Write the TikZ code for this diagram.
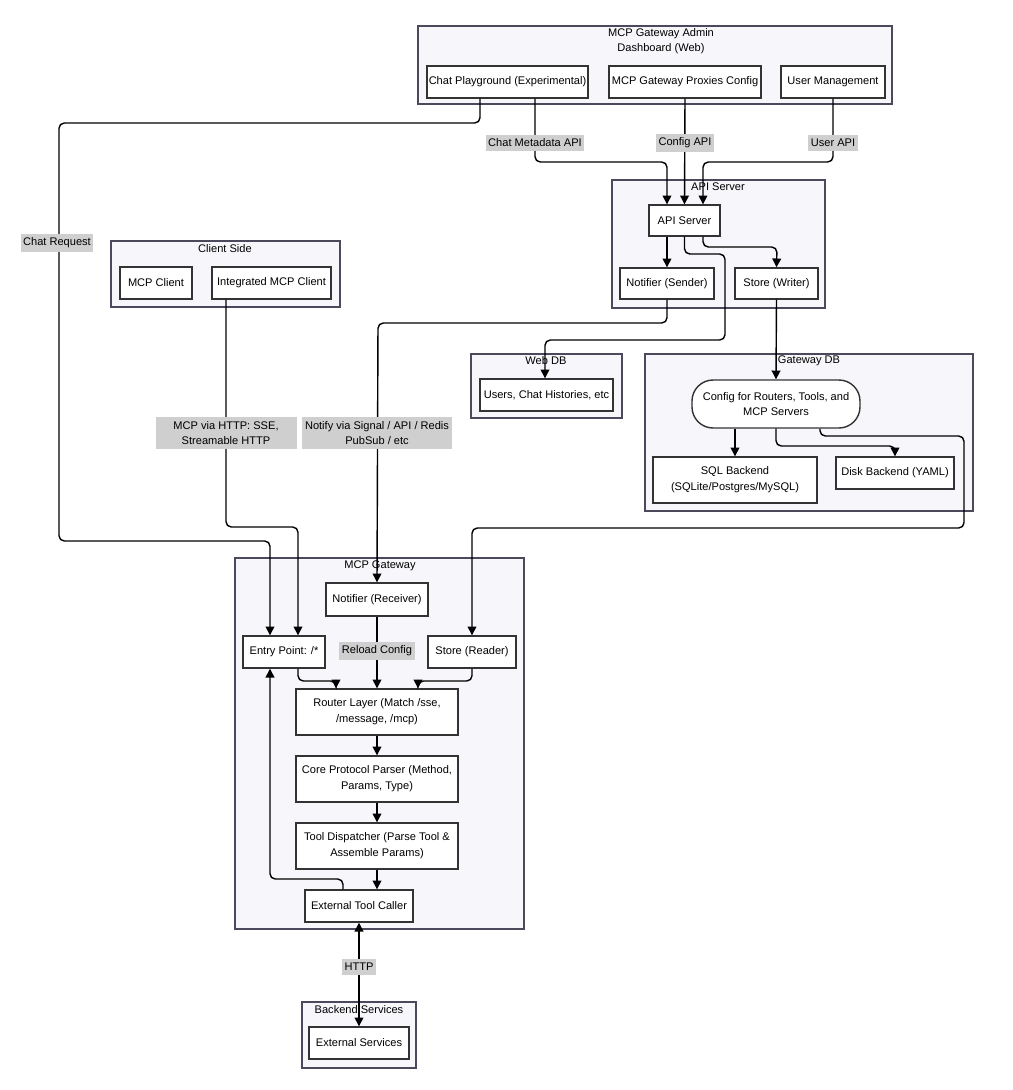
\documentclass[tikz,border=0pt]{standalone}
\usepackage{fontspec}
\setmainfont{Liberation Sans}
\usetikzlibrary{calc,arrows.meta}
\definecolor{clfill}{HTML}{F7F7FB}
\definecolor{clline}{HTML}{4A4A5C}
\definecolor{lblgray}{HTML}{CFCFCF}
\tikzset{
  box/.style={rectangle, draw=black!80, line width=0.8pt, fill=white, align=center, inner sep=0,
    font=\fontsize{6.3}{9}\selectfont},
  cluster/.style={draw=clline, line width=0.8pt, fill=clfill},
  title/.style={font=\fontsize{6.3}{8.2}\selectfont, align=center, inner sep=0},
  lbl/.style={fill=lblgray, inner xsep=1.5pt, inner ysep=2.3pt, align=center, font=\fontsize{6.3}{9}\selectfont},
  arr/.style={-{Triangle[length=5pt,width=5pt]}, line width=0.8pt, rounded corners=3pt},
  link/.style={line width=0.8pt, rounded corners=3pt}
}
\begin{document}
\begin{tikzpicture}[x=0.02cm, y=-0.02cm]
  \useasboundingbox (0,0) rectangle (1013,1090);

  % clusters
  \draw[cluster] (418,26) rectangle (892,104);
  \node[title] (admintitle) at (661,41) {MCP Gateway Admin\\Dashboard (Web)};
  \draw[cluster] (612,180) rectangle (825,308);
  \node[title] (apititle) at (718,187) {API Server};
  \draw[cluster] (111,241) rectangle (340,307);
  \node[title] (clienttitle) at (225,249) {Client Side};
  \draw[cluster] (471,354) rectangle (622,418);
  \node[title] (webdbtitle) at (546,361) {Web DB};
  \draw[cluster] (645,354) rectangle (973,511);
  \node[title] (gwdbtitle) at (809,361) {Gateway DB};
  \draw[cluster] (235,558) rectangle (524,929);
  \node[title] (gwtitle) at (380,566) {MCP Gateway};
  \draw[cluster] (302,1002) rectangle (416,1068);
  \node[title] (betitle) at (359,1010) {Backend Services};

  % nodes
  \node[box, minimum width=161*0.02cm, minimum height=32*0.02cm] (chat) at (507.5,82) {Chat Playground (Experimental)};
  \node[box, minimum width=152*0.02cm, minimum height=32*0.02cm] (proxies) at (685,82) {MCP Gateway Proxies Config};
  \node[box, minimum width=104*0.02cm, minimum height=32*0.02cm] (users) at (833,82) {User Management};
  \node[box, minimum width=71*0.02cm, minimum height=31*0.02cm] (apisrv) at (684.5,220.5) {API Server};
  \node[box, minimum width=94*0.02cm, minimum height=31*0.02cm] (notsend) at (667,283.5) {Notifier (Sender)};
  \node[box, minimum width=83*0.02cm, minimum height=31*0.02cm] (storew) at (776.5,283.5) {Store (Writer)};
  \node[box, minimum width=72*0.02cm, minimum height=32*0.02cm] (mcpclient) at (156,283) {MCP Client};
  \node[box, minimum width=119*0.02cm, minimum height=32*0.02cm] (intclient) at (271.5,283) {Integrated MCP Client};
  \node[box, minimum width=133*0.02cm, minimum height=32*0.02cm] (webdb) at (546.5,395) {Users, Chat Histories, etc};
  \node[box, rounded corners=12pt, minimum width=168*0.02cm, minimum height=48*0.02cm] (cfg) at (776,404) {Config for Routers, Tools, and\\MCP Servers};
  \node[box, minimum width=164*0.02cm, minimum height=46*0.02cm] (sql) at (735,480) {SQL Backend\\(SQLite/Postgres/MySQL)};
  \node[box, minimum width=118*0.02cm, minimum height=32*0.02cm] (disk) at (895,473) {Disk Backend (YAML)};
  \node[box, minimum width=102*0.02cm, minimum height=33*0.02cm] (notrecv) at (377,599.5) {Notifier (Receiver)};
  \node[box, minimum width=82*0.02cm, minimum height=32*0.02cm] (entry) at (284,652) {Entry Point: /*};
  \node[box, minimum width=88*0.02cm, minimum height=32*0.02cm] (storer) at (472,652) {Store (Reader)};
  \node[box, minimum width=162*0.02cm, minimum height=46*0.02cm] (router) at (377,712) {Router Layer (Match /sse,\\/message, /mcp)};
  \node[box, minimum width=162*0.02cm, minimum height=46*0.02cm] (parser) at (377,779) {Core Protocol Parser (Method,\\Params, Type)};
  \node[box, minimum width=162*0.02cm, minimum height=46*0.02cm] (dispatch) at (377,846) {Tool Dispatcher (Parse Tool \&\\Assemble Params)};
  \node[box, minimum width=108*0.02cm, minimum height=32*0.02cm] (caller) at (359,906) {External Tool Caller};
  \node[box, minimum width=100*0.02cm, minimum height=32*0.02cm] (extsvc) at (359,1043) {External Services};

  % connectors
  \draw[arr] ($(chat.south)+(-27.5,0)$) |- (59,123) |- (270,541) -- (entry.north -| 270,0);
  \draw[arr] ($(chat.south)+(27.5,0)$) |- (667,162) -- ($(apisrv.north)+(-17.5,0)$);
  \draw[arr] (proxies.south) -- (apisrv.north);
  \draw[arr] (users.south) |- (703,162) -- ($(apisrv.north)+(18.5,0)$);
  \draw[arr] ($(apisrv.south)+(-17.5,0)$) -- (notsend.north);
  \draw[arr] ($(apisrv.south)+(18.5,0)$) |- (777,247) -- (storew.north);
  \draw[arr] (apisrv.south) |- (725,254) |- (545,340) -- (webdb.north -| 545,0);
  \draw[arr] (notsend.south) |- (378,323) -- (notrecv.north);
  \draw[arr] (storew.south) -- (cfg.north);
  \draw[arr] (intclient.south -| 226,0) |- (298,527) -- (entry.north -| 298,0);
  \draw[arr] (cfg.south -| 735,0) -- (sql.north);
  \draw[arr] (cfg.south) |- (895,446) -- (disk.north);
  \draw[arr] (cfg.south -| 820,0) |- (964,436) |- (472,528) -- (storer.north);
  \draw[arr] (notrecv.south) -- (router.north);
  \draw[arr] (entry.south -| 298,0) |- (336,681) -- (router.north -| 336,0);
  \draw[arr] (storer.south) |- (418,681) -- (router.north -| 418,0);
  \draw[arr] (router.south) -- (parser.north);
  \draw[arr] (parser.south) -- (dispatch.north);
  \draw[arr] (dispatch.south) -- (caller.north -| 377,0);
  \draw[arr] (caller.north -| 343,0) |- (270,879) -- (entry.south -| 270,0);
  \draw[{Triangle[length=5pt,width=5pt]}-{Triangle[length=5pt,width=5pt]}, line width=0.8pt] (caller.south) -- (extsvc.north);

  % edge labels
  \node[lbl] (lchat) at (57,243) {Chat Request};
  \node[lbl] (lmeta) at (535,143) {Chat Metadata API};
  \node[lbl] (lcfg) at (685,143) {Config API};
  \node[lbl] (luser) at (833,143) {User API};
  \node[lbl, minimum width=138*0.02cm] (lnotify) at (377,433) {Notify via Signal / API / Redis\\PubSub / etc};
  \node[lbl, minimum width=141*0.02cm] (lmcp) at (226,433) {MCP via HTTP: SSE,\\Streamable HTTP};
  \node[lbl] (lreload) at (377,651) {Reload Config};
  \node[lbl] (lhttp) at (359,967) {HTTP};
\end{tikzpicture}
\end{document}
